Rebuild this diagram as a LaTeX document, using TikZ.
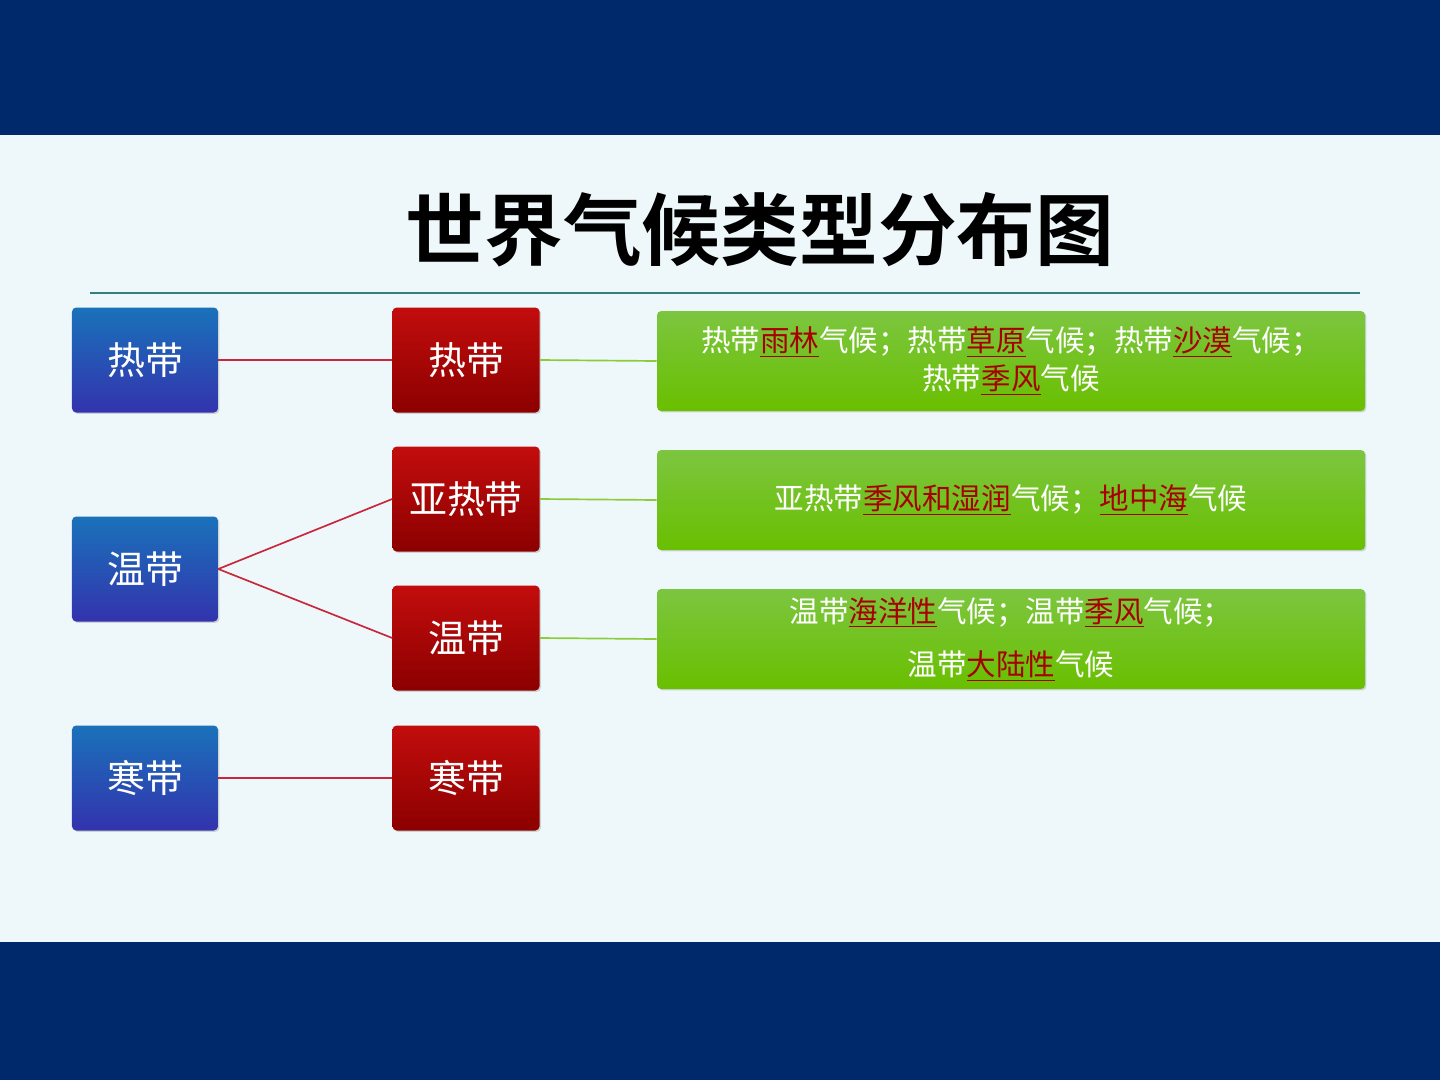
\documentclass[tikz,border=0pt]{standalone}
\usepackage{fontspec}
\newfontfamily\cjk{Noto Sans CJK SC}
\newfontfamily\cjkb{Noto Sans CJK SC Bold}
\usetikzlibrary{shadows}
\definecolor{navy}{HTML}{00296B}
\definecolor{bg}{HTML}{EEF8FA}
\definecolor{dkred}{HTML}{A80000}
\definecolor{lred}{HTML}{C8283A}
\definecolor{lgreen}{HTML}{8CCB3A}
\newcommand{\hl}[1]{{\color{dkred}\underline{#1}}}
\tikzset{
 bx/.style={rounded corners=3pt,draw=none,drop shadow={opacity=0.3,shadow xshift=1pt,shadow yshift=-1pt},text=white,font=\cjk\fontsize{27}{32}\selectfont,inner sep=0pt},
 bluebox/.style={bx,top color=blue!45!cyan!70!black!90,bottom color=blue!60!black!80,minimum width=36.5mm,minimum height=26.25mm},
 redbox/.style={bx,top color=red!75!black!95,bottom color=red!55!black,minimum width=36.75mm,minimum height=26.25mm},
 greenbox/.style={bx,top color=green!55!yellow!70!black!75,bottom color=green!45!yellow!75!black,minimum width=177mm,minimum height=25mm,font=\cjk\fontsize{21}{27}\selectfont,align=center},
 rl/.style={lred,line width=1.2pt},
 gl/.style={lgreen,line width=1.2pt}
}
\begin{document}
\begin{tikzpicture}[x=0.25mm,y=-0.25mm]
\useasboundingbox (0,0) rectangle (1440,1080);
\fill[bg] (0,0) rectangle (1440,1080);
\fill[navy] (0,0) rectangle (1440,135);
\fill[navy] (0,942) rectangle (1440,1080);
\node[font=\cjkb\fontsize{56}{60}\selectfont] (title) at (760,230) {世界气候类型分布图};
\draw[teal!60!gray,line width=1pt] (90,293) -- (1360,293);
\node[bluebox] (b1) at (145,360) {热带};
\node[bluebox] (b2) at (145,569) {温带};
\node[bluebox] (b3) at (145,778) {寒带};
\node[redbox] (r1) at (466,360) {热带};
\node[redbox] (r2) at (466,499) {亚热带};
\node[redbox] (r3) at (466,638) {温带};
\node[redbox] (r4) at (466,778) {寒带};
\node[greenbox] (g1) at (1011,361) {热带\hl{雨林}气候；热带\hl{草原}气候；热带\hl{沙漠}气候；\\热带\hl{季风}气候};
\node[greenbox] (g2) at (1011,500) {亚热带\hl{季风和湿润}气候；\hl{地中海}气候};
\node[greenbox,font=\cjk\fontsize{21}{38}\selectfont] (g3) at (1011,639) {温带\hl{海洋性}气候；温带\hl{季风}气候；\\温带\hl{大陆性}气候};
\draw[rl] (b1.east) -- (r1.west);
\draw[rl] (b2.east) -- (r2.west);
\draw[rl] (b2.east) -- (r3.west);
\draw[rl] (b3.east) -- (r4.west);
\draw[gl] (r1.east) -- (g1.west);
\draw[gl] (r2.east) -- (g2.west);
\draw[gl] (r3.east) -- (g3.west);
\end{tikzpicture}
\end{document}
